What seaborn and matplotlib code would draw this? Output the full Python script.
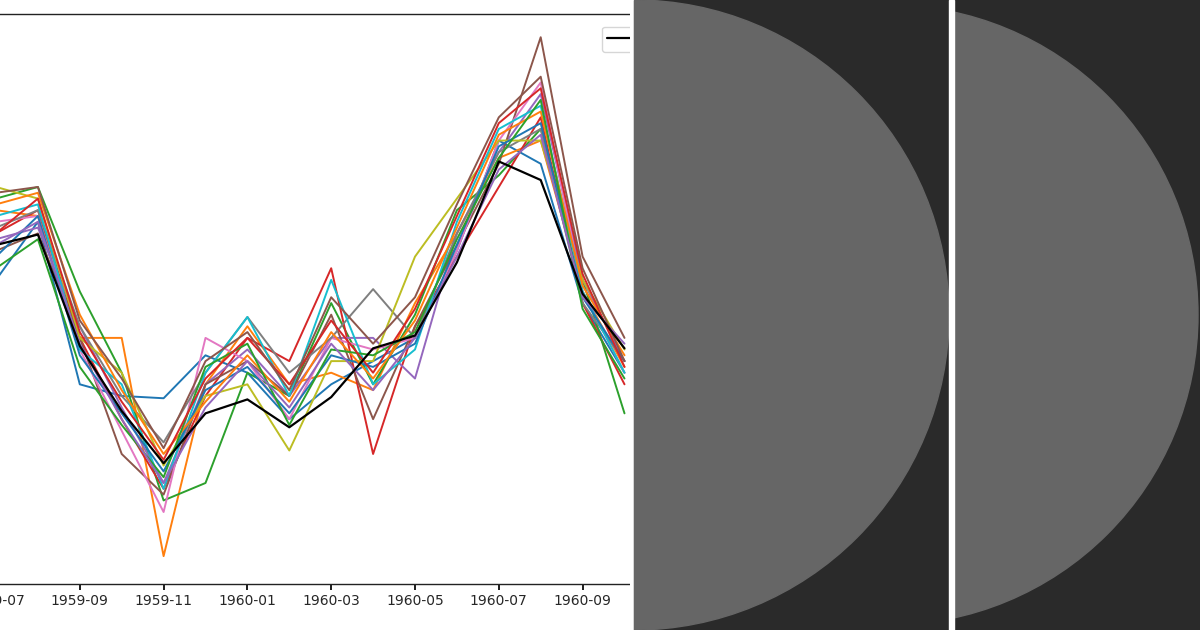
import matplotlib
matplotlib.use("Agg")
import matplotlib.pyplot as plt
import seaborn as sns
import pandas as pd
import numpy as np
from matplotlib.patches import Circle, Rectangle

months = ["1959-07","1959-08","1959-09","1959-10","1959-11","1959-12",
          "1960-01","1960-02","1960-03","1960-04","1960-05","1960-06",
          "1960-07","1960-08","1960-09","1960-10"]
tick_labels = ["1959-07","1959-09","1959-11","1960-01","1960-03","1960-05","1960-07","1960-09"]
mean_line = [550,559,463,407,362,405,417,393,419,461,472,535,622,606,508,461]
samples = [
    [520,570,430,420,418,455,440,400,430,450,470,545,640,620,500,440],
    [580,575,470,470,282,430,480,430,440,425,500,560,625,640,510,445],
    [590,600,510,440,330,345,440,420,500,430,490,580,610,650,520,405],
    [560,580,470,400,340,420,470,450,530,370,480,540,600,660,500,430],
    [555,565,480,410,345,430,460,420,470,470,435,560,630,680,520,450],
    [545,560,470,370,335,430,450,420,490,400,480,550,620,729,540,470],
    [570,575,460,390,320,470,450,400,470,460,470,545,640,690,510,440],
    [565,580,480,420,380,440,488,440,470,512,470,560,630,650,500,450],
    [600,590,470,440,360,420,430,373,450,450,540,590,640,640,520,460],
    [575,585,460,430,340,440,488,420,520,430,460,570,650,670,510,440],
    [540,575,455,405,355,425,445,405,455,445,465,550,635,655,505,450],
    [585,595,490,425,370,415,455,415,475,435,485,565,645,665,515,455],
    [530,555,445,395,350,445,465,395,460,455,475,555,625,675,495,435],
    [560,590,475,415,365,435,470,430,485,440,495,575,655,685,525,445],
    [550,570,465,400,345,410,450,410,465,425,470,540,615,645,505,465],
    [595,600,485,435,375,450,475,425,505,465,505,585,660,695,530,450],
]

sns.set_theme(style="white")
fig = plt.figure(figsize=(12, 6.3), dpi=100)
W, H = 1200, 630
ax = fig.add_axes([-100/W, (630-584)/H, 800/W, 570/H])
rows = []
for i, s in enumerate(samples):
    for j, v in enumerate(s):
        rows.append({"x": j, "y": v, "s": f"s{i}"})
df = pd.DataFrame(rows)
pal = sns.color_palette("tab10", 10)
pal = [pal[i % 10] for i in range(len(samples))]
sns.lineplot(data=df, x="x", y="y", hue="s", palette=pal, linewidth=1.4, ax=ax, legend=False)
sns.lineplot(x=np.arange(len(mean_line)), y=mean_line, color="black", linewidth=1.6, ax=ax, label="mean")
step = 41.9
ax.set_xlim(-(100 - 4) / step, (800 - 100 + 4) / step)
ax.set_ylim(258, 749)
ax.set_xticks([months.index(t) for t in tick_labels])
ax.set_xticklabels(tick_labels, fontsize=10)
ax.tick_params(axis="x", length=4, bottom=True, color="black")
ax.set_yticks([])
ax.set_xlabel(""); ax.set_ylabel("")
for sp in ax.spines.values():
    sp.set_color("#222222"); sp.set_linewidth(1)
ax.legend(loc="upper left", bbox_to_anchor=((595+100)/800, 0.99), fontsize=10, handlelength=1.6)

pan = fig.add_axes([630/W, 0, 570/W, 1])
pan.set_xlim(630, 1200); pan.set_ylim(0, 630)
pan.axis("off")
pan.add_patch(Rectangle((630, 0), 4, 630, color="white"))
pan.add_patch(Rectangle((634, 0), 566, 630, color="#2a2a2a"))
c1 = Circle((634, 315), 315, color="#666666")
pan.add_patch(c1); c1.set_clip_path(Rectangle((634, 0), 315, 630, transform=pan.transData))
c2 = Circle((888, 315), 310, color="#666666")
pan.add_patch(c2); c2.set_clip_path(Rectangle((954, 0), 250, 630, transform=pan.transData))
pan.add_patch(Rectangle((949, 0), 5, 630, color="white"))
fig.savefig("out.png", dpi=100)
